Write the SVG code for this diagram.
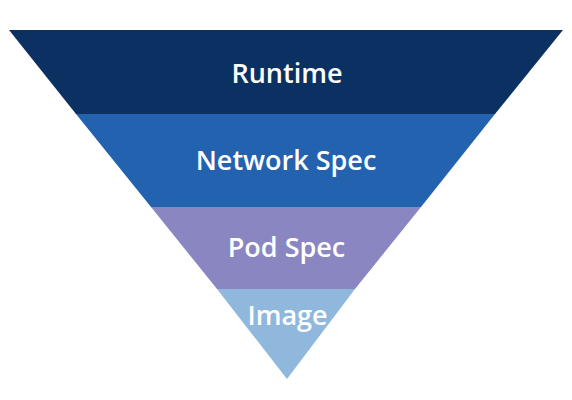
<svg xmlns="http://www.w3.org/2000/svg" width="572" height="400" viewBox="0 0 572 400">
  <style>
    .lbl { font-family: "Open Sans", "Noto Sans", "DejaVu Sans", sans-serif; font-size: 27px; font-weight: 600; fill: #ffffff; text-anchor: middle; }
  </style>
  <rect x="0" y="0" width="572" height="400" fill="#ffffff"/>
  <g id="runtime">
    <polygon points="9,30 563,30 495,114 76,114" fill="#0b3163"/>
    <text class="lbl" x="287" y="83">Runtime</text>
  </g>
  <g id="network-spec">
    <polygon points="76,114 495,114 421,207 151,207" fill="#2362ae"/>
    <text class="lbl" x="286" y="170">Network Spec</text>
  </g>
  <g id="pod-spec">
    <polygon points="151,207 421,207 355,289 217,289" fill="#8986c2"/>
    <text class="lbl" x="286.5" y="257">Pod Spec</text>
  </g>
  <g id="image">
    <polygon points="217,289 355,289 287,379" fill="#8fb8dc"/>
    <text class="lbl" x="287.5" y="325">Image</text>
  </g>
  <g id="connectors"></g>
</svg>
